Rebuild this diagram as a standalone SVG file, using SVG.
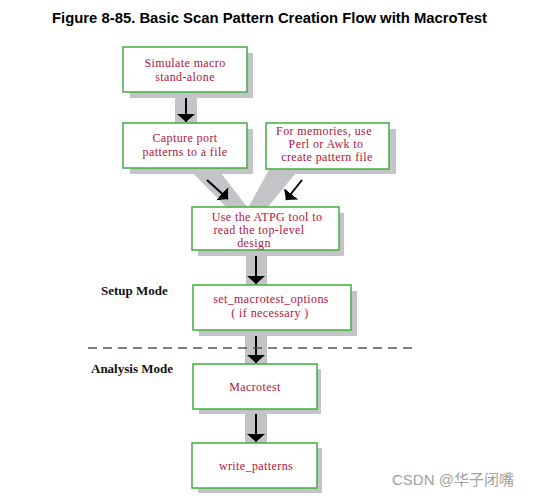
<svg xmlns="http://www.w3.org/2000/svg" width="543" height="498" viewBox="0 0 543 498">
<defs>
<marker id="ah" viewBox="0 0 8 18" markerWidth="8" markerHeight="18" refX="8" refY="9" orient="auto" markerUnits="userSpaceOnUse">
<path d="M0,0 L8,9 L0,18 Z" fill="#000"/>
</marker>
</defs>
<style>
.box{fill:#fff;stroke:#3fae3f;stroke-width:1.5}
.sh{fill:#c4c4c8}
.t{font-family:"Liberation Serif",serif;font-size:12px;letter-spacing:0.4px;fill:#b3123e;text-anchor:middle}
.lbl{font-family:"Liberation Serif",serif;font-size:13px;font-weight:bold;fill:#111}
.ar{stroke:#000;stroke-width:2;fill:none;marker-end:url(#ah)}
</style>
<rect width="543" height="498" fill="#fff"/>
<text x="52" y="23" font-family="Liberation Sans,Arial,sans-serif" font-size="14" font-weight="bold" fill="#000" textLength="435" lengthAdjust="spacingAndGlyphs">Figure 8-85. Basic Scan Pattern Creation Flow with MacroTest</text>
<g id="connectors">
<rect class="sh" x="175" y="92" width="22" height="32"/>
<polygon class="sh" points="188,168 217,168 248,208 227,208"/>
<polygon class="sh" points="270,168 300,168 267,208 248,208"/>
<rect class="sh" x="246" y="250" width="21" height="36"/>
<rect class="sh" x="245" y="330" width="22" height="35"/>
<rect class="sh" x="245" y="409" width="22" height="35"/>
<line class="ar" x1="186" y1="94" x2="186" y2="122"/>
<line class="ar" x1="207" y1="180" x2="228" y2="199"/>
<line class="ar" x1="302" y1="180" x2="286" y2="200"/>
<line class="ar" x1="256" y1="252" x2="256" y2="284"/>
<line class="ar" x1="256" y1="332" x2="256" y2="363"/>
<line class="ar" x1="256" y1="411" x2="256" y2="442"/>
</g>
<line x1="88" y1="348" x2="417" y2="348" stroke="#555" stroke-width="1.3" stroke-dasharray="9,6"/>
<text class="lbl" x="101" y="295">Setup Mode</text>
<text class="lbl" x="91" y="373">Analysis Mode</text>
<g id="n1">
<rect class="sh" x="130" y="53" width="123" height="45"/>
<rect class="box" x="123" y="47" width="124" height="45"/>
<text class="t" x="185" y="67">Simulate macro</text>
<text class="t" x="185" y="81">stand-alone</text>
</g>
<g id="n2">
<rect class="sh" x="130" y="129" width="123" height="45"/>
<rect class="box" x="123" y="123" width="124" height="45"/>
<text class="t" x="185" y="142">Capture port</text>
<text class="t" x="185" y="156">patterns to a file</text>
</g>
<g id="n3">
<rect class="sh" x="272" y="129" width="124" height="45"/>
<rect class="box" x="266" y="123" width="123" height="46"/>
<text class="t" x="324" y="135">For memories, use</text>
<text class="t" x="326" y="148">Perl or Awk to</text>
<text class="t" x="327" y="161">create pattern file</text>
</g>
<g id="n4">
<rect class="sh" x="198" y="213" width="146" height="43"/>
<rect class="box" x="192" y="207" width="147" height="43"/>
<text class="t" x="267" y="221">Use the ATPG tool to</text>
<text class="t" x="259" y="234">read the top-level</text>
<text class="t" x="254" y="247">design</text>
</g>
<g id="n5">
<rect class="sh" x="199" y="291" width="158" height="45"/>
<rect class="box" x="193" y="285" width="158" height="45"/>
<text class="t" x="271" y="303">set_macrotest_options</text>
<text class="t" x="270" y="317">( if necessary )</text>
</g>
<g id="n6">
<rect class="sh" x="199" y="369" width="122" height="45"/>
<rect class="box" x="193" y="364" width="124" height="45"/>
<text class="t" x="255" y="391">Macrotest</text>
</g>
<g id="n7">
<rect class="sh" x="198" y="448" width="124" height="45"/>
<rect class="box" x="192" y="443" width="125" height="45"/>
<text class="t" x="256" y="470">write_patterns</text>
</g>
<text x="392" y="485" font-family="Liberation Sans,'Noto Sans CJK SC',sans-serif" font-size="15" fill="#a0a0a0">CSDN @华子闭嘴</text>
</svg>
